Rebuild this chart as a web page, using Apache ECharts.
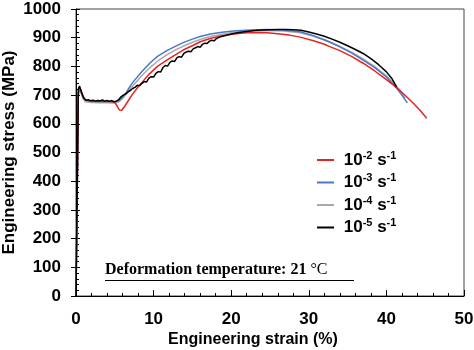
<!DOCTYPE html>
<html>
<head>
<meta charset="utf-8">
<script src="https://cdn.jsdelivr.net/npm/echarts@6/dist/echarts.min.js"></script>
<style>
  html, body { margin: 0; padding: 0; background: #fff; }
  #chart { width: 474px; height: 350px; }
</style>
</head>
<body>
<div id="chart"></div>
<script>
// strain (%) vs stress (MPa)
const rateExp = ['-2', '-3', '-4', '-5']
const colors = ['#e52421', '#4a78c8', '#a9a9a9', '#000000']

const red = [
  [0, 0], [0.3, 700], [0.4, 728], [0.6, 718], [0.9, 695], [1.2, 684], [1.6, 680], [2.5, 679],
  [3.5, 678], [4.5, 678], [5.0, 675], [5.3, 662], [5.6, 648], [5.9, 647], [6.3, 662], [6.8, 683],
  [7.2, 700], [8, 728], [9, 760], [9.5, 775], [10.5, 800], [11.7, 822], [12.8, 840], [13.8, 857],
  [15, 872], [16, 886], [17.3, 897], [18.5, 905], [20.3, 913], [22, 917], [23.5, 918], [24.6, 917],
  [26, 914], [27.5, 909], [28.9, 902], [30.5, 890], [32, 877], [32.7, 869], [34, 855], [35.5, 835],
  [37, 811], [38.5, 784], [40, 754], [41.3, 727], [42.5, 697], [43.5, 671], [44.3, 648], [45.2, 619]
]
const blue = [
  [0, 0], [0.3, 705], [0.4, 727], [0.6, 716], [0.9, 692], [1.2, 682], [2, 679], [3, 678], [4, 678],
  [5, 677], [5.5, 680], [6, 693], [6.5, 710], [7, 732], [7.4, 747], [8.5, 782], [9.5, 811],
  [10.5, 835], [11.7, 855], [12.8, 870], [13.8, 883], [15, 895], [16, 904], [17.3, 913], [18.8, 919],
  [20.3, 923], [22.5, 927], [24.6, 929], [26.7, 927], [28.9, 921], [30.5, 908], [32, 893], [32.7, 885],
  [34, 868], [35.5, 847], [37, 822], [38.5, 796], [40, 763], [41.3, 725], [42, 700], [42.7, 673]
]
const gray = [
  [0, 0], [0.3, 700], [0.4, 722], [0.6, 710], [0.9, 688], [1.2, 677], [2, 674], [3, 673], [4, 673],
  [5, 672], [5.5, 676], [6, 688], [6.5, 704], [7, 722], [7.5, 738], [8.5, 768], [9.5, 795],
  [10.5, 818], [11.7, 840], [12.8, 857], [13.8, 870], [15, 884], [16, 894], [17.3, 904], [18.8, 912],
  [20.3, 918], [22.5, 923], [24.6, 925], [26.7, 923], [28.9, 917], [30.5, 906], [32, 892], [32.7, 884],
  [34, 870], [35.5, 850], [37, 826], [38.5, 799], [40, 767], [41.3, 731], [42, 708], [42.4, 689]
]
const black = [
  [0, 0], [0.3, 720], [0.45, 732], [0.7, 712], [1.0, 690], [1.3, 682], [1.6, 684], [1.9, 680],
  [2.2, 682], [2.5, 679], [2.8, 681], [3.1, 680], [3.4, 683], [3.7, 679], [4.0, 681], [4.3, 678],
  [4.6, 681], [4.9, 677], [5.2, 679], [5.5, 684], [5.8, 694], [6.1, 700], [6.4, 704], [6.7, 711],
  [7.0, 716], [7.3, 723], [7.6, 727], [7.9, 734], [8.2, 733], [8.5, 741], [8.8, 747], [9.1, 746],
  [9.4, 759], [9.7, 764], [10.0, 763], [10.3, 776], [10.6, 782], [10.9, 780], [11.2, 796],
  [11.5, 803], [11.8, 801], [12.1, 814], [12.4, 819], [12.7, 817], [13.0, 830], [13.3, 834],
  [13.6, 832], [13.9, 845], [14.2, 850], [14.5, 853], [14.8, 851], [15.1, 861], [15.4, 865],
  [15.7, 869], [16.0, 867], [16.3, 877], [16.6, 881], [16.9, 880], [17.2, 888], [17.5, 891],
  [17.8, 889], [18.1, 897], [18.5, 902], [19, 906], [20, 913], [21, 918], [22, 922], [23, 925],
  [24, 927], [25, 928], [26, 929], [27, 929], [28, 928], [29, 926], [30, 920], [31, 913], [32, 905],
  [33, 895], [34, 884], [35, 872], [36, 859], [37, 845], [38, 827], [39, 806], [40, 781],
  [40.7, 758], [41.3, 729]
]
const curves = [red, blue, gray, black]

const chart = echarts.init(document.getElementById('chart'))

const font = "'Liberation Sans', Arial, sans-serif"
const serif = "'Liberation Serif', 'Times New Roman', serif"

chart.setOption({
  animation: false,
  textStyle: { fontFamily: font },
  grid: {
    left: 76, right: 10, top: 9, bottom: 54,
    containLabel: false,
    outerBoundsMode: 'none',
    show: true, borderColor: '#444', borderWidth: 1
  },
  legend: {
    orient: 'vertical',
    left: 312,
    top: 145,
    itemGap: 4,
    icon: 'rect',
    itemWidth: 17,
    itemHeight: 2,
    data: rateExp.map(e => '10' + e),
    formatter: name => '{b| 10}{s|' + name.slice(2) + '}{b| s}{s|-1}',
    textStyle: {
      rich: {
        b: { fontSize: 17, fontWeight: 'bold', color: '#000', lineHeight: 20, fontFamily: font },
        s: { fontSize: 11, fontWeight: 'bold', color: '#000', lineHeight: 12, verticalAlign: 'top', fontFamily: font }
      }
    }
  },
  xAxis: {
    type: 'value',
    min: 0, max: 50, interval: 10,
    name: 'Engineering strain (%)',
    nameLocation: 'middle',
    nameGap: 36,
    nameMoveOverlap: false,
    nameTextStyle: { fontSize: 16, fontWeight: 'bold', color: '#000', padding: [0, 34, 0, 0] },
    axisLine: { lineStyle: { color: '#000', width: 1 } },
    axisTick: { inside: true, length: 6, lineStyle: { color: '#000' } },
    minorTick: { show: true, splitNumber: 5, length: 3, lineStyle: { color: '#000' } },
    axisLabel: { fontSize: 17, fontWeight: 'bold', color: '#000', margin: 15 },
    splitLine: { show: false },
    z: 5
  },
  yAxis: [
    {
      type: 'value',
      min: 0, max: 1000, interval: 100,
      name: 'Engineering stress (MPa)',
      nameLocation: 'middle',
      nameGap: 58,
      nameMoveOverlap: false,
      nameTextStyle: { fontSize: 17, fontWeight: 'bold', color: '#000' },
      axisLine: { lineStyle: { color: '#000', width: 1 } },
      axisTick: { length: 5, lineStyle: { color: '#000' } },
      axisLabel: { fontSize: 17, fontWeight: 'bold', color: '#000', margin: 15, formatter: v => String(v) },
      splitLine: { show: false },
      z: 5
    },
    {
      type: 'value',
      position: 'left',
      min: 0, max: 1000, interval: 100,
      axisLine: { show: false },
      axisTick: { inside: true, length: 4, lineStyle: { color: '#000' } },
      minorTick: { show: true, splitNumber: 5, length: 3, lineStyle: { color: '#000' } },
      axisLabel: { show: false },
      splitLine: { show: false }
    }
  ],
  graphic: [
    {
      type: 'text',
      left: 105,
      top: 262,
      z: 10,
      style: {
        text: '{b|Deformation temperature: 21 }{n|°C}',
        rich: {
          b: { fontFamily: serif, fontSize: 16, fontWeight: 'bold', fill: '#000' },
          n: { fontFamily: serif, fontSize: 16, fill: '#000' }
        }
      }
    },
    {
      type: 'line',
      z: 10,
      shape: { x1: 105, y1: 280.5, x2: 354, y2: 280.5 },
      style: { stroke: '#000', lineWidth: 1 }
    }
  ],
  series: curves.map((d, i) => ({
    name: '10' + rateExp[i],
    type: 'line',
    data: d,
    showSymbol: false,
    symbol: 'none',
    lineStyle: { color: colors[i], width: 1.5 },
    itemStyle: { color: colors[i] },
    z: i === 3 ? 4 : 3 - i
  }))
})
</script>
</body>
</html>
